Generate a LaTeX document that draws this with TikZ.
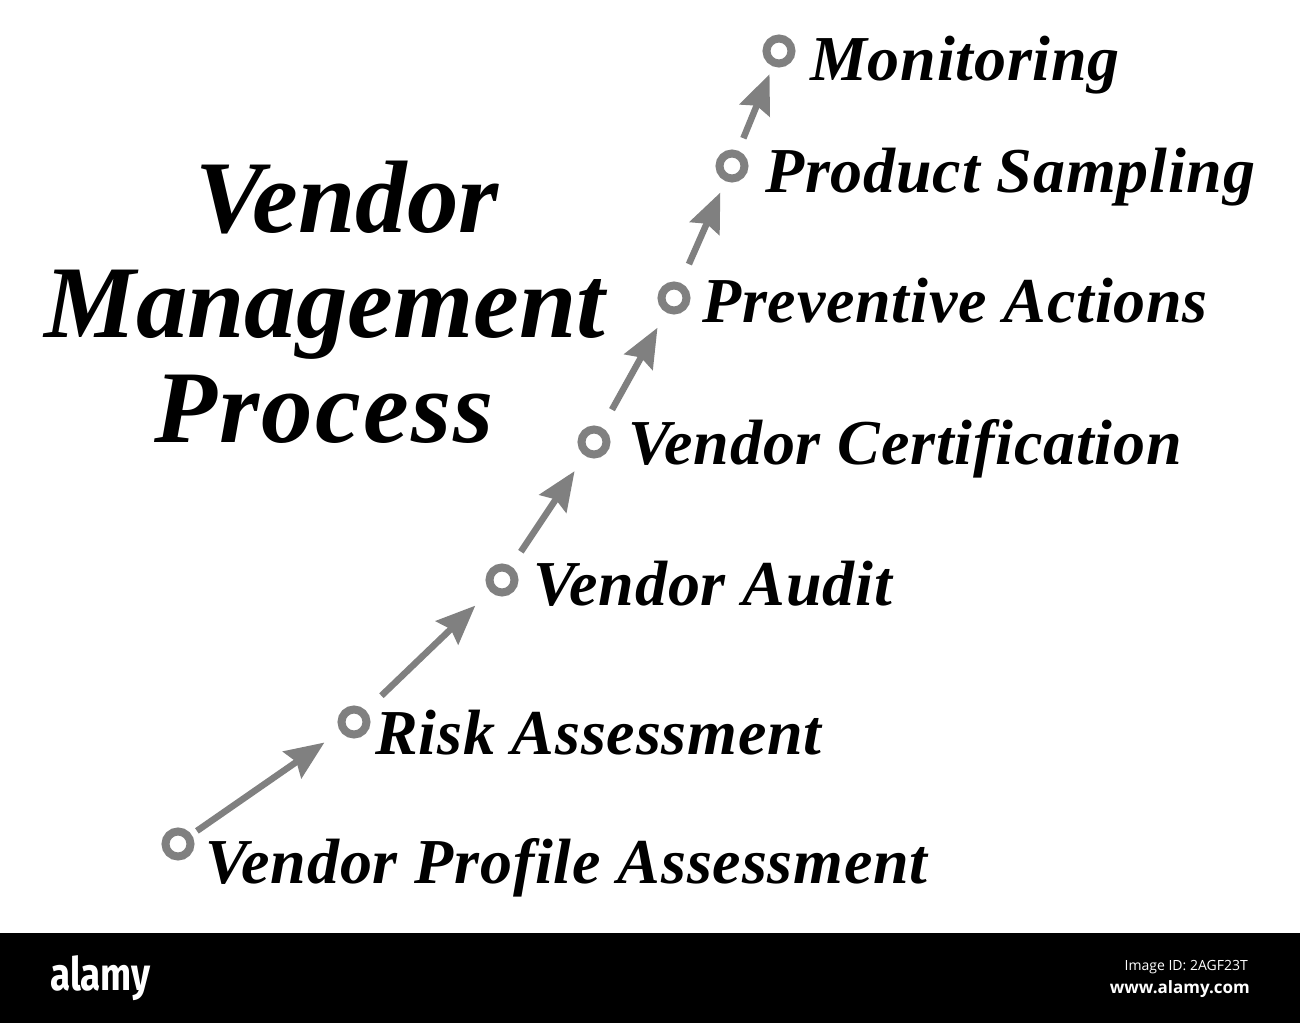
\documentclass[tikz,border=0pt]{standalone}
\usepackage{fontspec}
\setmainfont{Liberation Serif}
\newfontfamily\lblfont[LetterSpace=1.3]{Liberation Serif}
\newfontfamily\wmfont{Open Sans}
\newfontfamily\logofont{Fira Sans}
\usetikzlibrary{arrows.meta}
\definecolor{ringgray}{RGB}{128,128,128}
\tikzset{
  ring/.style={circle, draw=ringgray, line width=8pt, minimum size=25pt, inner sep=0pt, outer sep=0pt},
  flow/.style={draw=ringgray, line width=6.5pt, -{Stealth[length=39pt,width=32pt,inset=5pt,fill=ringgray]}},
  lbl/.style={anchor=base west, inner sep=0pt, font=\fontsize{64}{70}\lblfont\bfseries\itshape},
  ttl/.style={anchor=base, inner sep=0pt, font=\fontsize{103}{110}\selectfont\bfseries\itshape},
}
\begin{document}
\begin{tikzpicture}[x=1pt,y=-1pt]
\useasboundingbox (0,0) rectangle (1300,1023);
\fill[white] (0,0) rectangle (1300,1023);
% title
\node[ttl] (t1) at (347,232) {Vendor};
\node[ttl] (t2) at (325,337) {Management};
\node[ttl] (t3) at (324,442) {\addfontfeature{LetterSpace=2}Process};
% rings
\node[ring] (c1) at (178,844) {};
\node[ring] (c2) at (354,722) {};
\node[ring] (c3) at (502,580) {};
\node[ring] (c4) at (594,442) {};
\node[ring] (c5) at (674,298) {};
\node[ring] (c6) at (732,166) {};
\node[ring] (c7) at (779,51) {};
% labels
\node[lbl] (l1) at (205,883) {Vendor Profile Assessment};
\node[lbl] (l2) at (375,754) {Risk Assessment};
\node[lbl] (l3) at (533,605) {Vendor Audit};
\node[lbl] (l4) at (628,464) {Vendor Certification};
\node[lbl] (l5) at (702,322) {Preventive Actions};
\node[lbl] (l6) at (765,192) {Product Sampling};
\node[lbl] (l7) at (810,80) {Monitoring};
% arrows
\draw[flow, shorten <=10.5pt, shorten >=23.5pt] (c1) -- (c2);
\draw[flow, shorten <=25.5pt, shorten >=24.5pt] (c2) -- (c3);
\draw[flow, shorten <=21.5pt, shorten >=22.5pt] (c3) -- (c4);
\draw[flow, shorten <=24.5pt, shorten >=21.5pt] (c4) -- (c5);
\draw[flow, shorten <=24.5pt, shorten >=16.5pt] (c5) -- (c6);
\draw[flow, shorten <=17.5pt, shorten >=12.5pt] (c6) -- (c7);
% band
\fill[black] (0,933) rectangle (1300,1023);
\node[anchor=base west, inner sep=0pt, text=white, font=\fontsize{46}{50}\selectfont\logofont\bfseries] (logo) at (50,990) {\scalebox{0.8}[1]{alamy}};
\node[anchor=base east, inner sep=0pt, text=white, font=\fontsize{14}{16}\selectfont\wmfont] (imgid) at (1248,970) {Image ID: 2AGF23T};
\node[anchor=base east, inner sep=0pt, text=white, font=\fontsize{17}{19}\selectfont\wmfont\bfseries] (url) at (1250,993) {www.alamy.com};
\end{tikzpicture}
\end{document}
